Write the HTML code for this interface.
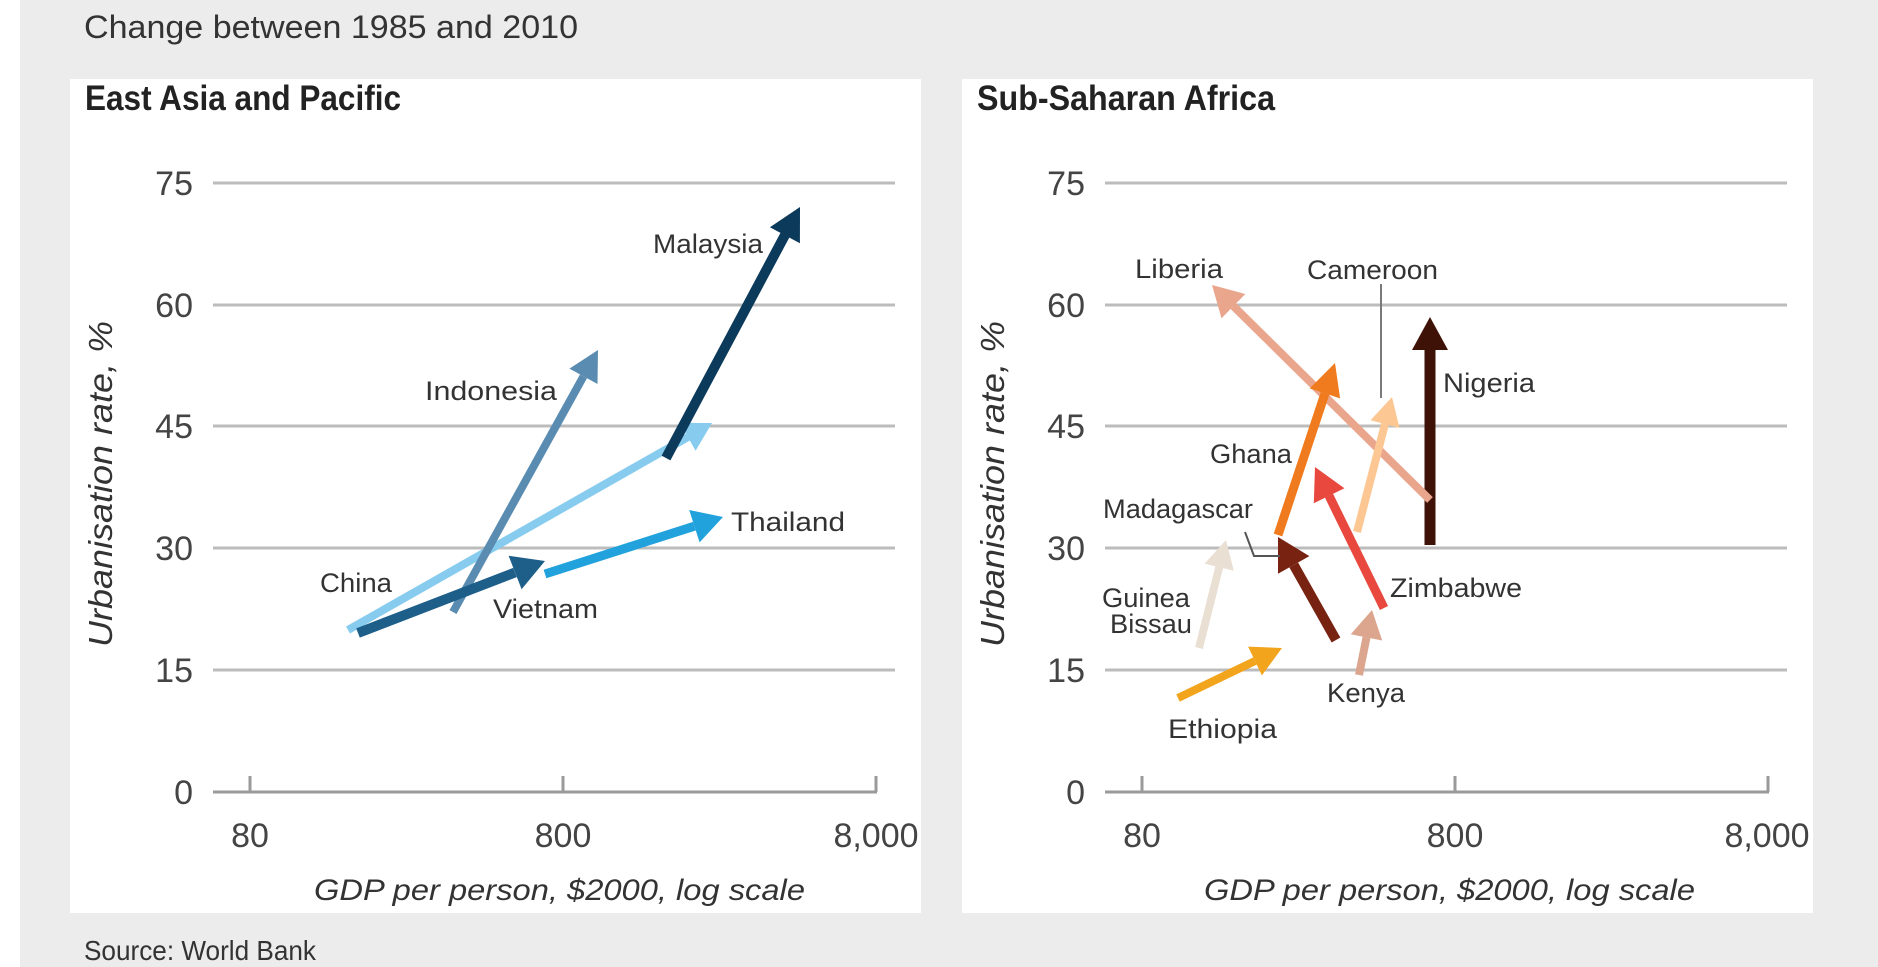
<!DOCTYPE html>
<html>
<head>
<meta charset="utf-8">
<style>
html,body{margin:0;padding:0;background:#ececec;}
svg{display:block;}
text{font-family:"Liberation Sans",Arial,sans-serif;}
</style>
</head>
<body>
<svg width="1878" height="967" viewBox="0 0 1878 967" xmlns="http://www.w3.org/2000/svg">
  <!-- background -->
  <rect x="0" y="0" width="1878" height="967" fill="#ececec"/>
  <rect x="0" y="0" width="20" height="967" fill="#ffffff"/>

  <!-- panels -->
  <rect x="70" y="79" width="851" height="834" fill="#ffffff"/>
  <rect x="962" y="79" width="851" height="834" fill="#ffffff"/>

  <!-- header -->
  <text x="84" y="38" font-size="32" fill="#333" textLength="494" lengthAdjust="spacingAndGlyphs">Change between 1985 and 2010</text>
  <text x="85" y="110" font-size="35" font-weight="bold" fill="#222" textLength="316" lengthAdjust="spacingAndGlyphs">East Asia and Pacific</text>
  <text x="977" y="110" font-size="35" font-weight="bold" fill="#222" textLength="298" lengthAdjust="spacingAndGlyphs">Sub-Saharan Africa</text>
  <text x="84" y="960" font-size="28" fill="#333" textLength="232" lengthAdjust="spacingAndGlyphs">Source: World Bank</text>

  <!-- ===== LEFT PANEL ===== -->
  <g stroke="#bcbcbc" stroke-width="3">
    <line x1="213" y1="183" x2="895" y2="183"/>
    <line x1="213" y1="305" x2="895" y2="305"/>
    <line x1="213" y1="426" x2="895" y2="426"/>
    <line x1="213" y1="548" x2="895" y2="548"/>
    <line x1="213" y1="670" x2="895" y2="670"/>
  </g>
  <g stroke="#9a9a9a" stroke-width="3">
    <line x1="213" y1="792" x2="877" y2="792"/>
    <line x1="250" y1="776" x2="250" y2="792"/>
    <line x1="563" y1="776" x2="563" y2="792"/>
    <line x1="876" y1="776" x2="876" y2="792"/>
  </g>
  <g font-size="34" fill="#444" text-anchor="end">
    <text x="193" y="195">75</text>
    <text x="193" y="317">60</text>
    <text x="193" y="438">45</text>
    <text x="193" y="560">30</text>
    <text x="193" y="682">15</text>
    <text x="193" y="804">0</text>
  </g>
  <g font-size="34" fill="#444" text-anchor="middle">
    <text x="250" y="847">80</text>
    <text x="563" y="847">800</text>
    <text x="876" y="847">8,000</text>
  </g>
  <text x="314" y="900" font-size="30" font-style="italic" fill="#333" textLength="491" lengthAdjust="spacingAndGlyphs">GDP per person, $2000, log scale</text>
  <text transform="translate(112,484) rotate(-90)" text-anchor="middle" font-size="33" font-style="italic" fill="#333" textLength="326" lengthAdjust="spacingAndGlyphs">Urbanisation rate, %</text>

  <!-- arrows left -->
  <line x1="348" y1="630" x2="688" y2="437" stroke="#87ccee" stroke-width="8"/>
  <polygon points="712,423 695.6,450.7 679.8,422.9" fill="#87ccee"/>
  <line x1="453" y1="612" x2="583.5" y2="376.3" stroke="#5a8cb1" stroke-width="8"/>
  <polygon points="598,350 597.5,384 569.5,368.6" fill="#5a8cb1"/>
  <line x1="358" y1="633" x2="515" y2="572.5" stroke="#1e5f8a" stroke-width="10"/>
  <polygon points="545,561 521.6,589.3 508.6,555.7" fill="#1e5f8a"/>
  <line x1="545" y1="574" x2="694.4" y2="526.2" stroke="#22a2dc" stroke-width="9"/>
  <polygon points="723,517 699.6,542.4 689.2,510" fill="#22a2dc"/>
  <line x1="666" y1="458" x2="785" y2="235" stroke="#0c3a5a" stroke-width="10"/>
  <polygon points="800,207 799.9,243.2 769.9,227.2" fill="#0c3a5a"/>

  <g font-size="27" fill="#333">
    <text x="320" y="592" textLength="72" lengthAdjust="spacingAndGlyphs">China</text>
    <text x="493" y="618" textLength="105" lengthAdjust="spacingAndGlyphs">Vietnam</text>
    <text x="425" y="400" textLength="132" lengthAdjust="spacingAndGlyphs">Indonesia</text>
    <text x="653" y="253" textLength="110" lengthAdjust="spacingAndGlyphs">Malaysia</text>
    <text x="731" y="531" textLength="114" lengthAdjust="spacingAndGlyphs">Thailand</text>
  </g>

  <!-- ===== RIGHT PANEL ===== -->
  <g stroke="#bcbcbc" stroke-width="3">
    <line x1="1105" y1="183" x2="1787" y2="183"/>
    <line x1="1105" y1="305" x2="1787" y2="305"/>
    <line x1="1105" y1="426" x2="1787" y2="426"/>
    <line x1="1105" y1="548" x2="1787" y2="548"/>
    <line x1="1105" y1="670" x2="1787" y2="670"/>
  </g>
  <g stroke="#9a9a9a" stroke-width="3">
    <line x1="1105" y1="792" x2="1769" y2="792"/>
    <line x1="1142" y1="776" x2="1142" y2="792"/>
    <line x1="1455" y1="776" x2="1455" y2="792"/>
    <line x1="1768" y1="776" x2="1768" y2="792"/>
  </g>
  <g font-size="34" fill="#444" text-anchor="end">
    <text x="1085" y="195">75</text>
    <text x="1085" y="317">60</text>
    <text x="1085" y="438">45</text>
    <text x="1085" y="560">30</text>
    <text x="1085" y="682">15</text>
    <text x="1085" y="804">0</text>
  </g>
  <g font-size="34" fill="#444" text-anchor="middle">
    <text x="1142" y="847">80</text>
    <text x="1455" y="847">800</text>
    <text x="1767" y="847">8,000</text>
  </g>
  <text x="1204" y="900" font-size="30" font-style="italic" fill="#333" textLength="491" lengthAdjust="spacingAndGlyphs">GDP per person, $2000, log scale</text>
  <text transform="translate(1004,484) rotate(-90)" text-anchor="middle" font-size="33" font-style="italic" fill="#333" textLength="326" lengthAdjust="spacingAndGlyphs">Urbanisation rate, %</text>

  <!-- arrows right -->
  <line x1="1430" y1="545" x2="1430" y2="350" stroke="#3f1208" stroke-width="11"/>
  <polygon points="1430,317 1448,350 1412,350" fill="#3f1208"/>
  <line x1="1199" y1="648" x2="1219.2" y2="567.2" stroke="#eadfd3" stroke-width="8"/>
  <polygon points="1226,540 1233.8,570.8 1204.6,563.6" fill="#eadfd3"/>
  <line x1="1178" y1="698" x2="1255" y2="661" stroke="#f2a41c" stroke-width="8"/>
  <polygon points="1282,648 1261.9,675.4 1248.1,646.6" fill="#f2a41c"/>
  <line x1="1430" y1="500" x2="1233.4" y2="306.1" stroke="#eaa58d" stroke-width="8"/>
  <polygon points="1212,285 1245.3,294 1221.5,318.2" fill="#eaa58d"/>
  <line x1="1357" y1="532" x2="1385" y2="424" stroke="#fcc793" stroke-width="8"/>
  <polygon points="1392,397 1399.5,427.9 1370.5,420.3" fill="#fcc793"/>
  <line x1="1278" y1="535" x2="1325" y2="393.4" stroke="#f07b1e" stroke-width="9"/>
  <polygon points="1335,363 1340.1,398.4 1309.7,388.4" fill="#f07b1e"/>
  <line x1="1384" y1="608" x2="1329" y2="495.7" stroke="#e8483e" stroke-width="9"/>
  <polygon points="1315,467 1344.4,488.2 1313.8,503.2" fill="#e8483e"/>
  <line x1="1359" y1="675" x2="1366.5" y2="637.4" stroke="#dca58e" stroke-width="8"/>
  <polygon points="1372,610 1382.2,640.5 1350.8,634.3" fill="#dca58e"/>
  <line x1="1336" y1="640" x2="1293.7" y2="564.9" stroke="#782312" stroke-width="10"/>
  <polygon points="1278,537 1309.4,556.1 1278,573.7" fill="#782312"/>

  <!-- leader lines -->
  <line x1="1381" y1="284" x2="1381" y2="398" stroke="#7a7a7a" stroke-width="2"/>
  <polyline points="1245,532 1254,556 1280,556" fill="none" stroke="#555" stroke-width="2"/>

  <g font-size="27" fill="#333">
    <text x="1135" y="278" textLength="88" lengthAdjust="spacingAndGlyphs">Liberia</text>
    <text x="1307" y="279" textLength="131" lengthAdjust="spacingAndGlyphs">Cameroon</text>
    <text x="1443" y="392" textLength="92" lengthAdjust="spacingAndGlyphs">Nigeria</text>
    <text x="1210" y="463" textLength="82" lengthAdjust="spacingAndGlyphs">Ghana</text>
    <text x="1103" y="518" textLength="150" lengthAdjust="spacingAndGlyphs">Madagascar</text>
    <text x="1102" y="607" textLength="88" lengthAdjust="spacingAndGlyphs">Guinea</text>
    <text x="1110" y="633" textLength="82" lengthAdjust="spacingAndGlyphs">Bissau</text>
    <text x="1390" y="597" textLength="132" lengthAdjust="spacingAndGlyphs">Zimbabwe</text>
    <text x="1327" y="702" textLength="78" lengthAdjust="spacingAndGlyphs">Kenya</text>
    <text x="1168" y="738" textLength="109" lengthAdjust="spacingAndGlyphs">Ethiopia</text>
  </g>
</svg>
</body>
</html>
